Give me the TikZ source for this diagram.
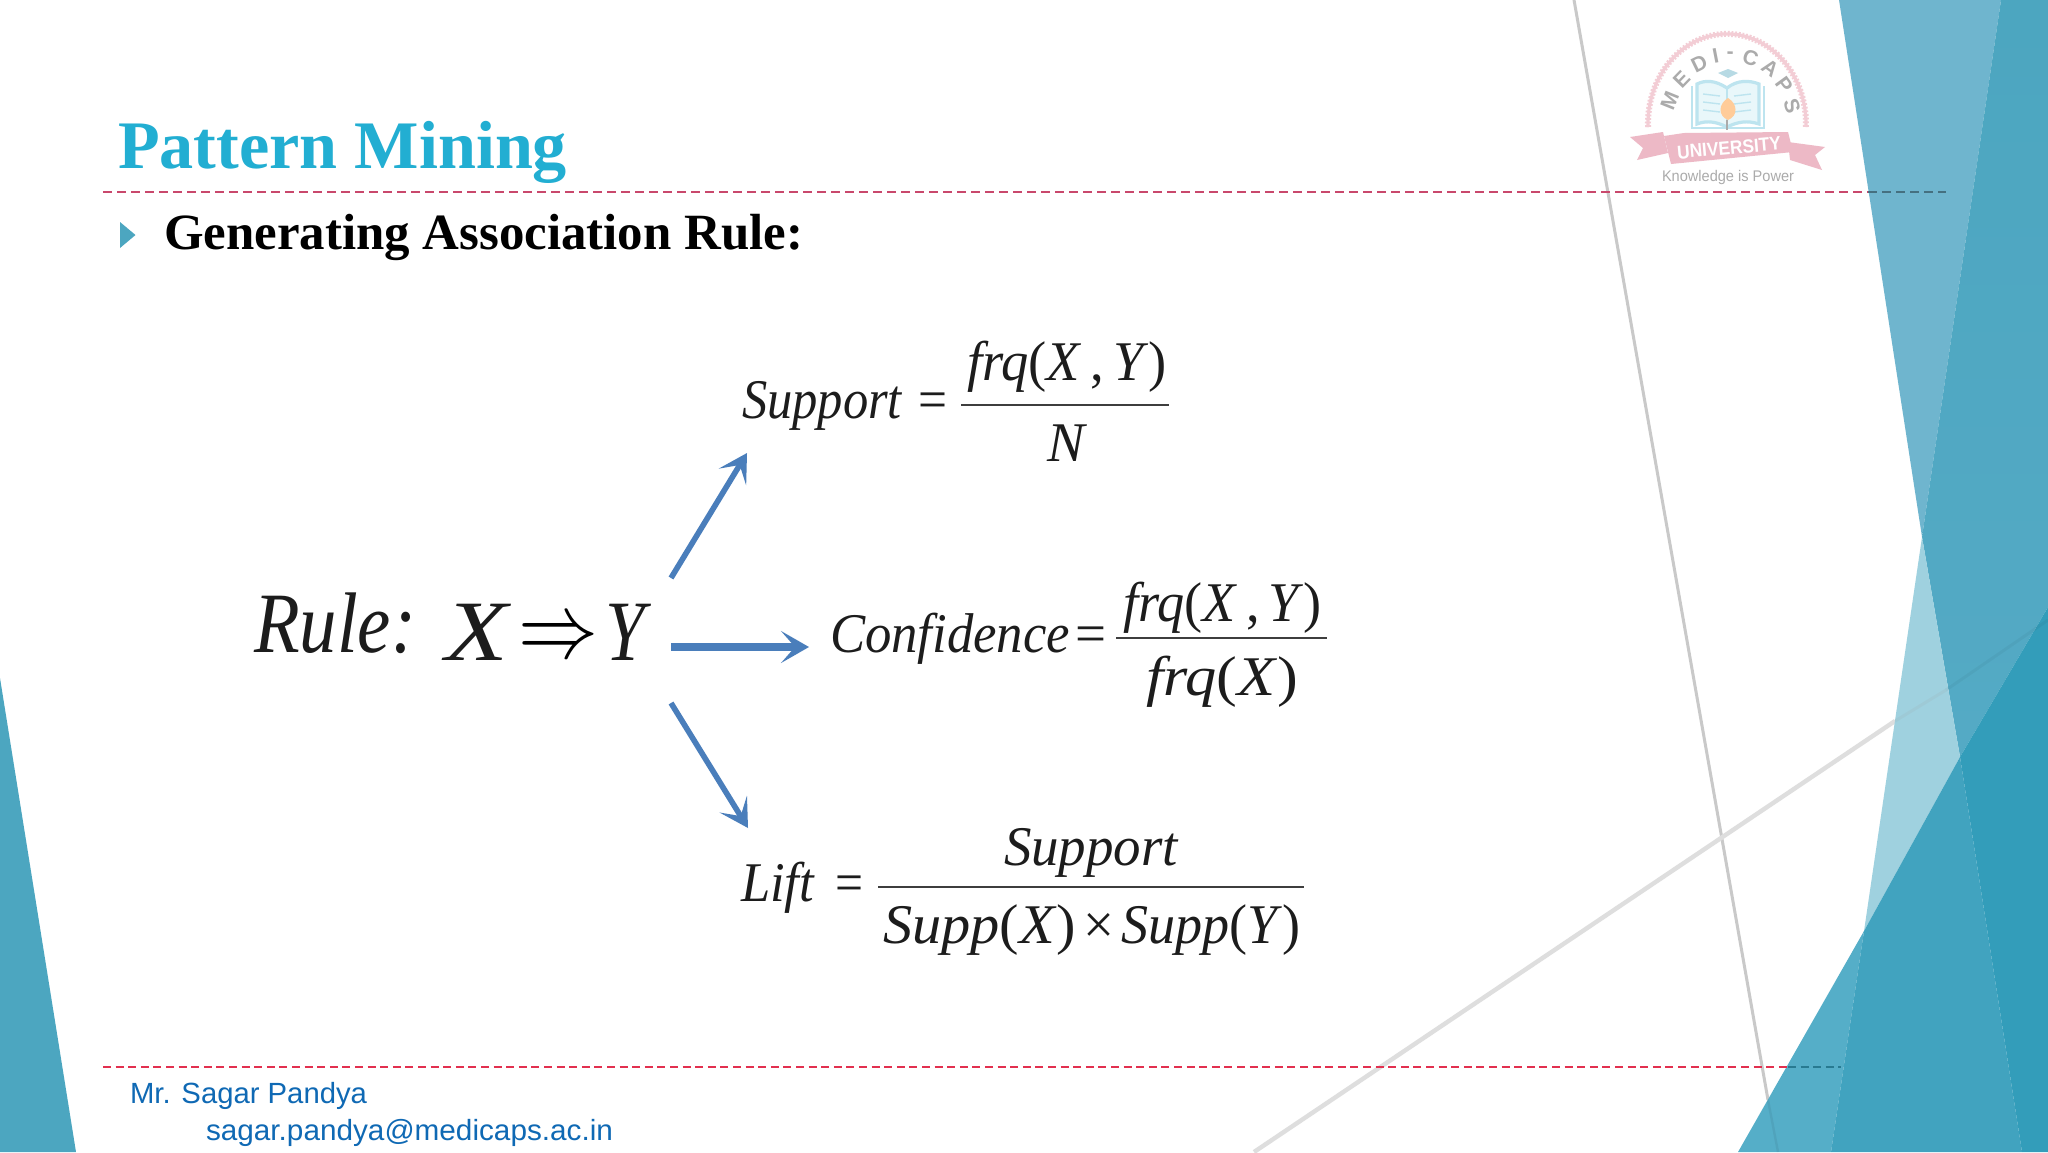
\documentclass[tikz,border=0pt]{standalone}
\usepackage{fontspec}
\usepackage{graphicx}
\setmainfont{Liberation Serif}
\newfontfamily\arialf{Liberation Sans}
\usetikzlibrary{arrows.meta}
\definecolor{tealA}{HTML}{6FB5CE}
\definecolor{tealB}{HTML}{54AAC5}
\definecolor{tealC}{HTML}{9FD1DF}
\definecolor{tealD}{HTML}{55AEC8}
\definecolor{tealE}{HTML}{41A3BF}
\definecolor{tealF}{HTML}{339DBA}
\definecolor{tealL}{HTML}{4CA6C0}
\definecolor{titleC}{HTML}{22AED2}
\definecolor{footC}{HTML}{0F69B4}
\definecolor{arrowC}{HTML}{4A7EBB}
\definecolor{inkC}{HTML}{1C1C1C}
\definecolor{dashA}{HTML}{C9486C}
\definecolor{dashB}{HTML}{E2304F}
\definecolor{pinkL}{HTML}{F3CDD5}
\definecolor{pinkR}{HTML}{EDB9C6}
\definecolor{bookC}{HTML}{BDE4EF}
\definecolor{bookF}{HTML}{E9F7FA}
\definecolor{logoG}{HTML}{ABABAB}
\newcommand{\fitw}[2]{\resizebox{#1pt}{\height}{#2}}
\newcommand{\frqxy}{\textit{frq}(\textit{X}\,,\,\textit{Y})}
\tikzset{
  tx/.style={anchor=base west,inner sep=0pt,outer sep=0pt},
  formula/.style={tx,text=inkC,font=\fontsize{28}{28}\selectfont},
  bigf/.style={tx,text=inkC,font=\fontsize{43}{43}\selectfont},
  fbar/.style={draw=inkC!85,line width=1.1pt},
  ruleArrow/.style={draw=arrowC,line width=2.8pt,-{Stealth[length=14pt,width=16pt,inset=7pt]}},
  greyA/.style={draw=black!21,line width=1.5pt},
  greyB/.style={draw=black!13,line width=2.2pt},
  logoLetter/.style={inner sep=0pt,text=logoG,font=\arialf\bfseries\fontsize{10.5}{10.5}\selectfont},
}
\begin{document}
\begin{tikzpicture}[x=0.5pt,y=-0.5pt]
\useasboundingbox (0,0) rectangle (2048,1152);
\fill[white] (0,0) rectangle (2048,1152);
% grey thin lines under the facets
\draw[greyA] (1574,0) -- (1768,1100);
\draw[greyB] (1254,1152) -- (1895,721);
% facets right
\fill[tealA] (1839,0) -- (2001,0) -- (1922,537) -- cycle;
\shade[top color=tealL,bottom color=tealB] (2001,0) -- (2048,0) -- (2048,607) -- (1960,757) -- (1922,537) -- cycle;
\fill[tealC] (1922,537) -- (1960,757) -- (1864,931) -- cycle;
\fill[tealD] (1738,1152) -- (1864,931) -- (1831,1152) -- cycle;
\fill[tealE] (1864,931) -- (1960,757) -- (2022,1152) -- (1831,1152) -- cycle;
\fill[tealF] (1960,757) -- (2048,607) -- (2048,1152) -- (2022,1152) -- cycle;
% faint continuations over the facets
\draw[black!40,line width=1.5pt,opacity=.12] (1895,721) -- (1946,690);
\draw[black,line width=1.5pt,opacity=.04] (1946,690) -- (2048,620);
\draw[black,line width=1.2pt,opacity=.06] (1768,1100) -- (1778,1152);
% facet left
\fill[tealL] (0,678) -- (76,1152) -- (0,1152) -- cycle;
% logo
\draw[pinkL,line width=1.6pt] (1648,127) arc[start angle=182,end angle=-2,x radius=39.5pt,y radius=45pt];
\draw[pinkL,line width=3pt,dash pattern=on .9pt off .9pt] (1648,127) arc[start angle=182,end angle=-2,x radius=39.5pt,y radius=45pt];
\foreach \t/\a/\r/\i in {M/158/64/1,E/136/66/2,D/116/68/3,I/101/70/4,-/89/70/5,C/72/70/6,A/54/70/7,P/36/68/8,S/17/66/9}{
  \node[logoLetter,rotate=\a-90] (logoL\i) at ({1729+\r*cos(\a)},{125-\r*sin(\a)}) {\t};
}
\filldraw[fill=bookF,draw=bookC,line width=1.6pt] (1727,88) .. controls (1715,80) and (1705,80) .. (1697,84) -- (1697,124) .. controls (1707,120) and (1717,122) .. (1727,127) .. controls (1737,122) and (1747,120) .. (1759,124) -- (1759,84) .. controls (1749,80) and (1737,80) .. (1727,88) -- cycle;
\draw[bookC,line width=1.2pt] (1692,86) -- (1692,128) -- (1764,128) -- (1764,86);
\foreach \yy in {94,102,110}{
  \draw[bookC,line width=.7pt] (1703,\yy) -- (1720,\yy+2);
  \draw[bookC,line width=.7pt] (1751,\yy) -- (1734,\yy+2);
}
\draw[bookC,line width=1pt] (1727,88) -- (1727,127);
\fill[bookC!90!gray] (1718,73) -- (1728,69) -- (1738,73) -- (1728,78) -- cycle;
\fill[orange!40] (1728,98) .. controls (1738,104) and (1738,116) .. (1728,120) .. controls (1718,116) and (1718,104) .. (1728,98) -- cycle;
\draw[logoG,line width=1.2pt] (1727,120) -- (1727,130);
\fill[pinkR] (1630,137) -- (1663,132) -- (1668,153) -- (1637,160) -- (1643,148) -- cycle;
\fill[pinkR] (1788,142) -- (1825,147) -- (1815,155) -- (1822,170) -- (1790,160) -- cycle;
\fill[pinkR] (1664,136) -- (1684,133) -- (1788,132) -- (1793,152) -- (1671,164) -- cycle;
\node[inner sep=0pt,rotate=5,text=white,font=\arialf\bfseries\fontsize{9.5}{9.5}\selectfont] (logoU) at (1729,148) {\fitw{52}{UNIVERSITY}};
\node[inner sep=0pt,text=logoG,font=\arialf\fontsize{7.7}{7.7}\selectfont] (logoK) at (1728,178) {\fitw{66}{Knowledge is Power}};
% dashed rules
\draw[dashA,line width=1pt,dash pattern=on 4.5pt off 2.5pt] (103,192) -- (1868,192);
\draw[tealA!62!black,line width=1pt,dash pattern=on 4.5pt off 2.5pt] (1868,192) -- (1946,192);
\draw[dashB,line width=.8pt,dash pattern=on 4pt off 2.3pt] (103,1067) -- (1788,1067);
\draw[tealF!78!black,line width=.8pt,dash pattern=on 4pt off 2.3pt] (1788,1067) -- (1841,1067);
% heading
\node[tx,text=titleC,font=\bfseries\fontsize{34}{34}\selectfont] (title) at (118,168) {\fitw{224.5}{Pattern Mining}};
\fill[tealL] (120,222) -- (135.5,235) -- (120,248) -- cycle;
\node[tx,text=black,font=\bfseries\fontsize{25.4}{25.4}\selectfont] (bullet) at (164,249) {\fitw{319.5}{Generating Association Rule:}};
% rule
\node[bigf] (ruleword) at (254,652) {\fitw{81}{\textit{Rule:}}};
\node[bigf] (rx) at (445,660) {\fitw{33}{\textit{X}}};
\node[inner sep=0pt,text=black] (rimp) at (558,640) {\resizebox{40pt}{17pt}{$\Rightarrow$}};
\node[bigf] (ry) at (605,660) {\fitw{23}{\textit{Y}}};
% arrows
\coordinate (a1s) at (671,578); \coordinate (a1e) at (747,453);
\coordinate (a2s) at (671,647); \coordinate (a2e) at (809,647);
\coordinate (a3s) at (671,703); \coordinate (a3e) at (748,828);
\draw[ruleArrow] (a1s) -- (a1e);
\draw[ruleArrow,line width=3.6pt] (a2s) -- (a2e);
\draw[ruleArrow] (a3s) -- (a3e);
% support
\node[formula] (sup) at (742,418) {\fitw{80.5}{\textit{Support}}};
\node[formula] (supeq) at (918,418) {\fitw{14.5}{=}};
\node[formula] (supn) at (967,380) {\fitw{100}{\frqxy}};
\node[formula] (supd) at (1047,461) {\fitw{20}{\textit{N}}};
\draw[fbar] (961,405) -- (1169,405);
% confidence
\node[formula] (con) at (830,652) {\fitw{120}{\textit{Confidence}}};
\node[formula] (coneq) at (1075,652) {\fitw{15.5}{=}};
\node[formula] (conn) at (1123,621) {\fitw{99.5}{\frqxy}};
\node[formula] (cond) at (1146,695) {\fitw{76}{\textit{frq}(\textit{X})}};
\draw[fbar] (1116,638) -- (1327,638);
% lift
\node[formula] (lif) at (741,901) {\fitw{37}{\textit{Lift}}};
\node[formula] (lifeq) at (835,901) {\fitw{14}{=}};
\node[formula] (lifn) at (1004,865) {\fitw{87.5}{\textit{Support}}};
\node[formula] (lifd1) at (883,943) {\fitw{96.5}{\textit{Supp}(\textit{X})}};
\node[formula] (lifx) at (1083,943) {\fitw{15.5}{×}};
\node[formula] (lifd2) at (1121,943) {\fitw{89.5}{\textit{Supp}(\textit{Y})}};
\draw[fbar] (878,887) -- (1304,887);
% footer
\node[tx,text=footC,font=\arialf\fontsize{14.6}{14.6}\selectfont] (foot1) at (130,1103) {\fitw{118.5}{Mr. Sagar Pandya}};
\node[tx,text=footC,font=\arialf\fontsize{14.6}{14.6}\selectfont] (foot2) at (206,1140) {\fitw{203.5}{sagar.pandya@medicaps.ac.in}};
\end{tikzpicture}
\end{document}
